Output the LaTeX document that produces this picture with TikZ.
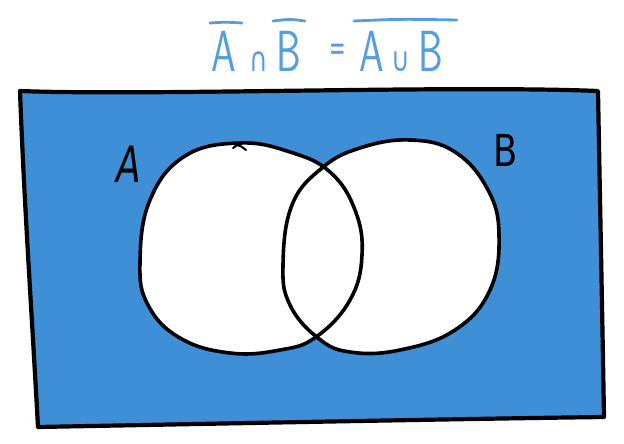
\documentclass[tikz,border=0pt]{standalone}
\usepackage{fontspec}
\usepackage{graphicx}
\newfontfamily\symfont{DejaVu Sans}
\newfontfamily\labfont{DejaVu Sans}
\definecolor{venn}{RGB}{62,143,214}
\definecolor{ttl}{RGB}{86,157,222}
\tikzset{
  ttext/.style={text=ttl, inner sep=0pt, anchor=base, font=\sffamily\fontsize{58}{58}\selectfont},
  tsym/.style={text=ttl, inner sep=0pt, anchor=base, font=\symfont\fontsize{34}{34}\selectfont},
  bar/.style={draw=ttl, line width=2.8pt, line cap=round},
  ink/.style={draw=black, line width=3.6pt, line join=round, line cap=round},
  lbl/.style={inner sep=0pt, text=black},
}
\begin{document}
\begin{tikzpicture}[x=1pt,y=-1pt]
\useasboundingbox (0,0) rectangle (624,444);
% title
\node[ttext] (t1) at (224,72) {\scalebox{0.68}[1]{A}};
\node[tsym] (tcap) at (259,72) {\scalebox{0.75}[1]{∩}};
\node[ttext] (t2) at (289,72) {\scalebox{0.68}[1]{B}};
\node[tsym, anchor=center] (teq) at (338,52) {\fontsize{36}{36}\selectfont\scalebox{0.55}[1]{=}};
\node[ttext] (t3) at (372,72) {\scalebox{0.68}[1]{A}};
\node[tsym] (tcup) at (401,72) {\scalebox{0.75}[1]{∪}};
\node[ttext] (t4) at (431,72) {\scalebox{0.68}[1]{B}};
\draw[bar] (210,23) .. controls (225,22) .. (242,23);
\draw[bar] (273,21) .. controls (290,19) .. (305,21);
\draw[bar] (354,21) .. controls (400,19) .. (457,20);
% universe
\path[fill=venn, ink, line width=4.2pt] (20,91) .. controls (150,96) and (450,85) .. (598,91)
  .. controls (600,200) and (602,300) .. (604,417)
  .. controls (450,419) and (200,424) .. (38,427)
  .. controls (31,300) and (24,200) .. cycle;
% sets
\fill[white] plot[smooth cycle, tension=0.7] coordinates {(140,262) (150,200) (185,156) (240,143) (290,152) (330,172) (355,210) (362,255) (350,300) (316,337) (280,350) (230,353) (180,338) (148,305)};
\fill[white] plot[smooth cycle, tension=0.7] coordinates {(283,265) (292,205) (322,168) (360,148) (410,140) (455,152) (488,190) (499,235) (490,290) (455,330) (400,350) (350,352) (318,338) (290,305)};
\draw[ink] plot[smooth cycle, tension=0.7] coordinates {(140,262) (150,200) (185,156) (240,143) (290,152) (330,172) (355,210) (362,255) (350,300) (316,337) (280,350) (230,353) (180,338) (148,305)};
\draw[ink] plot[smooth cycle, tension=0.7] coordinates {(283,265) (292,205) (322,168) (360,148) (410,140) (455,152) (488,190) (499,235) (490,290) (455,330) (400,350) (350,352) (318,338) (290,305)};
\draw[ink, line width=2pt] (233,148) .. controls (238,144) .. (246,150);
% labels
\node[lbl] (la) at (129,164) {\labfont\itshape\fontsize{50}{50}\selectfont\scalebox{0.72}[1]{A}};
\node[lbl] (lb) at (506,150) {\labfont\fontsize{44}{44}\selectfont\scalebox{0.8}[1]{B}};
\end{tikzpicture}
\end{document}
